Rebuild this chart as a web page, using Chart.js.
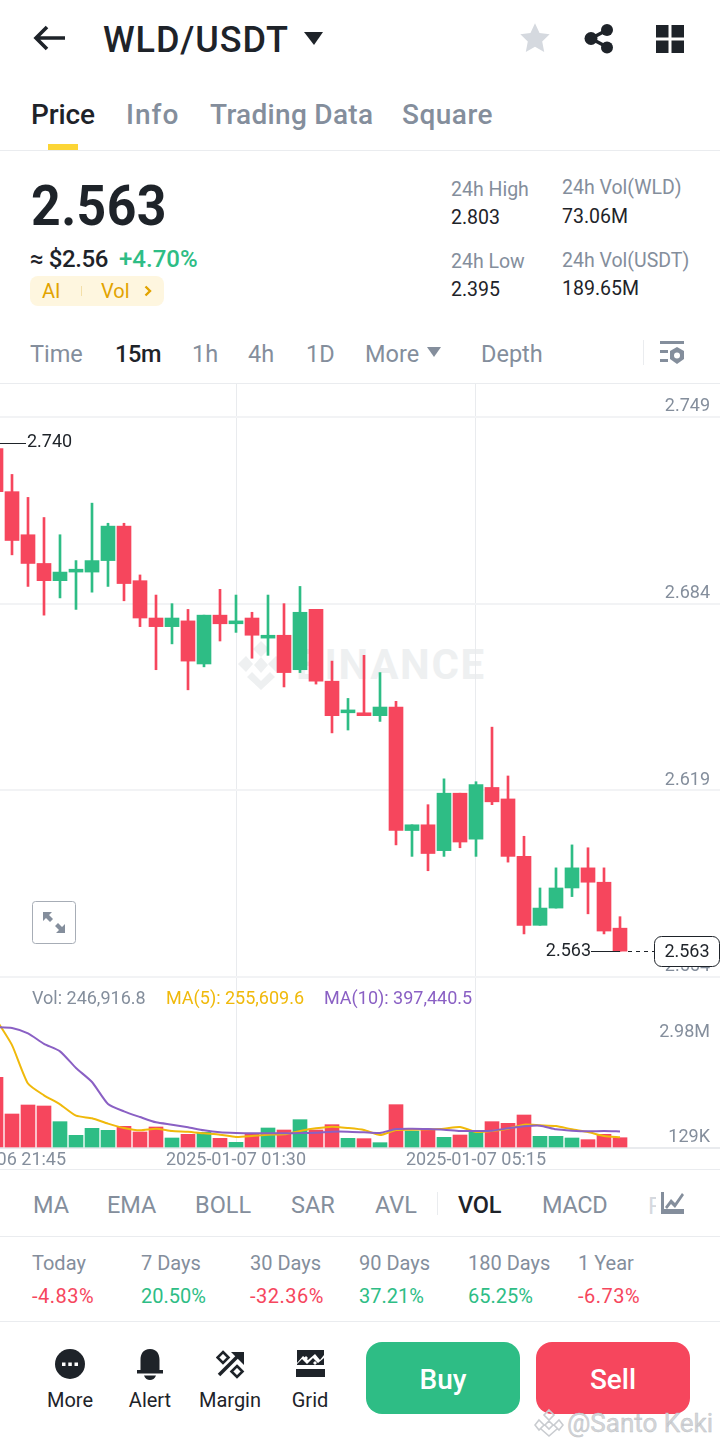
<!DOCTYPE html>
<html>
<head>
<meta charset="utf-8">
<title>WLD/USDT</title>
<script src="https://cdn.jsdelivr.net/npm/chart.js@4"></script>
<style>
  html, body { margin: 0; padding: 0; background: #fff; }
  #page { position: relative; width: 720px; height: 1446px; overflow: hidden; background: #fff; font-family: Roboto, sans-serif; color: #1e2329; }
  #page .t { position: absolute; white-space: nowrap; line-height: 1; transform: translateY(-50%); }
  .gray { color: #848e9c; }
  .dark { color: #1e2329; }
  .green { color: #2ebd85; }
  .red { color: #f6465d; }
  .hr { position: absolute; left: 0; width: 720px; height: 1px; background: #eaecef; }
  canvas { position: absolute; z-index: 2; }
  svg { position: absolute; }
  .btn { position: absolute; top: 1342px; width: 154px; height: 72px; border-radius: 16px; color: #fff; font-size: 28px; font-weight: 500; text-align: center; line-height: 76px; }
  .ctr { transform: translate(-50%, -50%) !important; }
  .row { font-size: 23.5px; }
  .mini { font-size: 19.5px; }
</style>
</head>
<body>
<div id="page">

  <!-- header -->
  <svg style="left:33px;top:24px" width="34" height="28" viewBox="0 0 34 28"><path d="M14 3 3 14l11 11M3 14h29" fill="none" stroke="#1e2329" stroke-width="3.6"/></svg>
  <div class="t" style="left:103px;top:40px;font-size:36px;font-weight:500;letter-spacing:0.9px">WLD/USDT</div>
  <svg style="left:304px;top:31px" width="20" height="15" viewBox="0 0 20 15"><path d="M0 1h19L10 14z" fill="#1e2329"/></svg>
  <svg style="left:519px;top:22px" width="32" height="32" viewBox="0 0 24 24"><path d="M12 1l3.400 7.200 7.600 1-5.600 5.400 1.500 7.900L12 18.600 5.100 22.500l1.500-7.900L1 9.200l7.600-1z" fill="#d5d9df"/></svg>
  <svg style="left:584px;top:23px" width="30" height="31" viewBox="0 0 30 31"><path d="M23 7 7 15.500 23 24" fill="none" stroke="#1e2329" stroke-width="3.500"/><circle cx="23" cy="7" r="6" fill="#1e2329"/><circle cx="7" cy="15.500" r="6.500" fill="#1e2329"/><circle cx="23" cy="24.500" r="6" fill="#1e2329"/></svg>
  <svg style="left:656px;top:25px" width="28" height="28" viewBox="0 0 28 28"><path d="M0 0h12.500v12.500H0zM15.500 0H28v12.500H15.500zM0 15.500h12.500V28H0zM15.500 15.500H28V28H15.500z" fill="#1e2329"/></svg>

  <!-- tabs -->
  <div class="t dark" style="left:31px;top:115px;font-size:28px;font-weight:500;letter-spacing:-0.1px">Price</div>
  <div class="t gray" style="left:126px;top:115px;font-size:28px;font-weight:500;letter-spacing:1px">Info</div>
  <div class="t gray" style="left:210px;top:115px;font-size:28px;font-weight:500;letter-spacing:0.3px">Trading Data</div>
  <div class="t gray" style="left:402px;top:115px;font-size:28px;font-weight:500;letter-spacing:0.5px">Square</div>
  <div style="position:absolute;left:48px;top:144px;width:30px;height:6px;background:#fcd535"></div>
  <div class="hr" style="top:150px"></div>

  <!-- price block -->
  <div class="t dark" style="left:31px;top:206px;font-size:55px;font-weight:700;letter-spacing:0.5px;transform:translateY(-50%) scaleX(0.94);transform-origin:left center">2.563</div>
  <div class="t dark" style="left:30px;top:259px;font-size:24px;font-weight:500;letter-spacing:-0.4px">≈ $2.56</div>
  <div class="t green" style="left:119px;top:259px;font-size:24px;font-weight:500">+4.70%</div>
  <div style="position:absolute;left:30px;top:276px;width:134px;height:30px;border-radius:8px;background:#fef6df"></div>
  <div class="t" style="left:42px;top:291px;font-size:20px;color:#e2a300">AI</div>
  <div style="position:absolute;left:81px;top:286px;width:1px;height:10px;background:#f3dfa8"></div>
  <div class="t" style="left:101px;top:291px;font-size:20px;color:#e2a300">Vol</div>
  <svg style="left:143px;top:284px" width="10" height="14" viewBox="0 0 10 14"><path d="M2.500 2.500 7 7l-4.500 4.500" fill="none" stroke="#e2a300" stroke-width="2.400"/></svg>

  <div class="t gray mini" style="left:451px;top:190px">24h High</div>
  <div class="t dark mini" style="left:451px;top:218px">2.803</div>
  <div class="t gray mini" style="left:451px;top:262px">24h Low</div>
  <div class="t dark mini" style="left:451px;top:290px">2.395</div>
  <div class="t gray mini" style="left:562px;top:188px">24h Vol(WLD)</div>
  <div class="t dark mini" style="left:562px;top:217px">73.06M</div>
  <div class="t gray mini" style="left:562px;top:261px">24h Vol(USDT)</div>
  <div class="t dark mini" style="left:562px;top:289px">189.65M</div>

  <!-- interval row -->
  <div class="t gray row" style="left:30px;top:355px">Time</div>
  <div class="t dark row" style="left:115px;top:355px;font-weight:500;letter-spacing:-0.3px">15m</div>
  <div class="t gray row" style="left:192px;top:355px">1h</div>
  <div class="t gray row" style="left:248px;top:355px">4h</div>
  <div class="t gray row" style="left:306px;top:355px">1D</div>
  <div class="t gray row" style="left:365px;top:355px">More</div>
  <svg style="left:427px;top:347px" width="14" height="11" viewBox="0 0 14 11"><path d="M0 0h14L7 10z" fill="#848e9c"/></svg>
  <div class="t gray row" style="left:481px;top:355px">Depth</div>
  <div style="position:absolute;left:643px;top:340px;width:1px;height:25px;background:#eaecef"></div>
  <svg style="left:660px;top:341px" width="25" height="25" viewBox="0 0 25 25"><path d="M0 0h24v3H0zM0 9h8v3H0zM0 18h8v3H0z" fill="#848e9c"/><path d="M17 6l7 4v8l-7 5-7-5v-8z" fill="#848e9c"/><circle cx="17" cy="14.500" r="3" fill="#fff"/></svg>
  <div class="hr" style="top:383px"></div>

  <!-- watermark behind the chart -->
  <svg style="left:237px;top:640px" width="48" height="50" viewBox="0 0 48 50"><g fill="#eef0f1"><path d="M24 1l8 8-8 8-8-8zM9 16l7 8-7 8-8-8zM39 16l8 8-8 8-8-8zM24 17l7 8-7 8-7-8zM15 32l9 9 9-9 5 5-14 13-14-13z"/></g></svg>
  <div class="t" style="left:296px;top:665px;font-size:42px;font-weight:700;letter-spacing:1.7px;color:#eef0f1">BINANCE</div>

  <!-- charts -->
  <canvas id="priceChart" style="left:-12px;top:384px" width="736" height="594"></canvas>
  <canvas id="volumeChart" style="left:-12px;top:978px" width="736" height="192"></canvas>

  <svg style="left:32px;top:901px;z-index:3" width="44" height="43" viewBox="0 0 44 43"><rect x="0.500" y="0.500" width="43" height="42" rx="3" fill="#fff" stroke="#a7adb6"/><path d="M11 11h9l-3 3 4 4-3 3-4-4-3 3zM33 32h-9l3-3-4-4 3-3 4 4 3-3z" fill="#848e9c"/></svg>

  <!-- volume legend -->
  <div class="t gray" style="left:32px;top:998px;font-size:18px;z-index:3">Vol: 246,916.8</div>
  <div class="t" style="left:166px;top:998px;font-size:18px;color:#f0b90b;z-index:3">MA(5): 255,609.6</div>
  <div class="t" style="left:324px;top:998px;font-size:18px;color:#8a60c4;z-index:3">MA(10): 397,440.5</div>
  <div class="hr" style="top:1169px"></div>

  <!-- indicators -->
  <div class="t gray row" style="left:33px;top:1206px">MA</div>
  <div class="t gray row" style="left:107px;top:1206px">EMA</div>
  <div class="t gray row" style="left:195px;top:1206px">BOLL</div>
  <div class="t gray row" style="left:291px;top:1206px">SAR</div>
  <div class="t gray row" style="left:375px;top:1206px">AVL</div>
  <div style="position:absolute;left:437px;top:1192px;width:1px;height:23px;background:#eaecef"></div>
  <div class="t dark row" style="left:458px;top:1206px;font-weight:500;letter-spacing:-0.2px">VOL</div>
  <div class="t gray row" style="left:542px;top:1206px;letter-spacing:-0.3px">MACD</div>
  <div class="t" style="left:648px;top:1206px;font-size:24px;color:#d5d9df">R</div>
  <div style="position:absolute;left:656px;top:1190px;width:36px;height:28px;background:#fff"></div>
  <svg style="left:661px;top:1192px" width="23" height="23" viewBox="0 0 23 23"><path d="M0 0h3v17h20v5H0z" fill="#848e9c"/><path d="M4 15l6-8 4 4 7-10 2 2-9 13-4-4-4 5z" fill="#848e9c"/></svg>
  <div class="hr" style="top:1236px"></div>

  <!-- performance -->
  <div class="t gray" style="left:32px;top:1263px;font-size:20px">Today</div>
  <div class="t gray" style="left:141px;top:1263px;font-size:20px">7 Days</div>
  <div class="t gray" style="left:250px;top:1263px;font-size:20px">30 Days</div>
  <div class="t gray" style="left:359px;top:1263px;font-size:20px">90 Days</div>
  <div class="t gray" style="left:468px;top:1263px;font-size:20px">180 Days</div>
  <div class="t gray" style="left:578px;top:1263px;font-size:20px">1 Year</div>
  <div class="t red" style="left:32px;top:1296px;font-size:20px;letter-spacing:0.5px">-4.83%</div>
  <div class="t green" style="left:141px;top:1296px;font-size:20px">20.50%</div>
  <div class="t red" style="left:250px;top:1296px;font-size:20px;letter-spacing:0.5px">-32.36%</div>
  <div class="t green" style="left:359px;top:1296px;font-size:20px">37.21%</div>
  <div class="t green" style="left:468px;top:1296px;font-size:20px">65.25%</div>
  <div class="t red" style="left:578px;top:1296px;font-size:20px;letter-spacing:0.5px">-6.73%</div>
  <div class="hr" style="top:1321px"></div>

  <!-- bottom bar -->
  <svg style="left:55px;top:1349px" width="30" height="30" viewBox="0 0 30 30"><circle cx="15" cy="15" r="15" fill="#1e2329"/><path d="M7 13.500h3.500v3.500H7zM13.300 13.500h3.500v3.500h-3.500zM19.500 13.500H23v3.500h-3.500z" fill="#fff"/></svg>
  <svg style="left:135px;top:1349px" width="30" height="31" viewBox="0 0 30 31"><path d="M15 0c7 0 9.500 5 9.500 11v10H28v3.500H2V21h3.500V11C5.500 5 8 0 15 0zM9 26.500h12c-1 3-3.500 4.500-6 4.500s-5-1.500-6-4.500z" fill="#1e2329"/></svg>
  <svg style="left:216px;top:1350px" width="29" height="29" viewBox="0 0 29 29"><path d="M3 25 24 4" stroke="#1e2329" stroke-width="3.500" fill="none"/><path d="M15 2h13v13z" fill="#1e2329"/><path d="M7 2l5.500 5.500L7 13 1.500 7.500zM21 16l5.500 5.500L21 27l-5.500-5.500z" fill="none" stroke="#1e2329" stroke-width="2.600"/></svg>
  <svg style="left:296px;top:1350px" width="29" height="28" viewBox="0 0 29 28"><path d="M1 0h27v5l-4 5-5-6-7 6-5-4-6 7zM0 19h29v8H0z" fill="#1e2329"/><path d="M1 14l5-5 5 5 6-6 5 5 6-5v7H1z" fill="#1e2329"/><path d="M10 6l2 2-2 2-2-2zM19 11l2 2-2 2-2-2z" fill="#fff"/></svg>
  <div class="t dark ctr" style="left:70px;top:1400px;font-size:20px">More</div>
  <div class="t dark ctr" style="left:150px;top:1400px;font-size:20px">Alert</div>
  <div class="t dark ctr" style="left:230px;top:1400px;font-size:20px">Margin</div>
  <div class="t dark ctr" style="left:310px;top:1400px;font-size:20px">Grid</div>
  <div class="btn" style="left:366px;background:#2ebd85">Buy</div>
  <div class="btn" style="left:536px;background:#f6465d">Sell</div>

  <!-- repost watermark -->
  <svg style="left:534px;top:1408px;z-index:4" width="30" height="30" viewBox="0 0 30 30"><path d="M15 2l5 5-5 5-5-5zM5 12l5 5-5 5-4-5zM25 12l4 5-4 5-5-5zM15 13l4 4-4 4-4-4zM7 21l8 7 8-7" fill="none" stroke="#c9ccd0" stroke-width="1.600"/></svg>
  <div class="t" style="left:567px;top:1423px;font-size:26px;color:#d3d5d8;z-index:4;-webkit-text-stroke:0.4px #bcbfc4">@Santo Keki</div>
</div>

<script>
// one entry per 15m candle
const timeLabels = [
  '2025-01-06 21:45', '2025-01-06 22:00', '2025-01-06 22:15', '2025-01-06 22:30', '2025-01-06 22:45',
  '2025-01-06 23:00', '2025-01-06 23:15', '2025-01-06 23:30', '2025-01-06 23:45', '2025-01-07 00:00',
  '2025-01-07 00:15', '2025-01-07 00:30', '2025-01-07 00:45', '2025-01-07 01:00', '2025-01-07 01:15',
  '2025-01-07 01:30', '2025-01-07 01:45', '2025-01-07 02:00', '2025-01-07 02:15', '2025-01-07 02:30',
  '2025-01-07 02:45', '2025-01-07 03:00', '2025-01-07 03:15', '2025-01-07 03:30', '2025-01-07 03:45',
  '2025-01-07 04:00', '2025-01-07 04:15', '2025-01-07 04:30', '2025-01-07 04:45', '2025-01-07 05:00',
  '2025-01-07 05:15', '2025-01-07 05:30', '2025-01-07 05:45', '2025-01-07 06:00', '2025-01-07 06:15',
  '2025-01-07 06:30', '2025-01-07 06:45', '2025-01-07 07:00', '2025-01-07 07:15', '2025-01-07 07:30'
];
const opens = [
  2.738, 2.723, 2.708, 2.698, 2.692, 2.695, 2.695, 2.699, 2.711, 2.692,
  2.679, 2.676, 2.678, 2.663, 2.680, 2.677, 2.679, 2.672, 2.673, 2.661,
  2.682, 2.657, 2.646, 2.646, 2.645, 2.648, 2.605, 2.607, 2.598, 2.618,
  2.602, 2.620, 2.616, 2.596, 2.572, 2.578, 2.585, 2.592, 2.587, 2.571
];
const highs = [
  2.740, 2.729, 2.721, 2.714, 2.708, 2.699, 2.719, 2.712, 2.712, 2.694,
  2.687, 2.684, 2.682, 2.680, 2.689, 2.687, 2.681, 2.687, 2.684, 2.690,
  2.682, 2.664, 2.651, 2.666, 2.660, 2.650, 2.607, 2.614, 2.623, 2.618,
  2.622, 2.641, 2.624, 2.603, 2.585, 2.592, 2.600, 2.599, 2.592, 2.575
];
const lows = [
  2.719, 2.701, 2.690, 2.680, 2.686, 2.682, 2.688, 2.690, 2.685, 2.676,
  2.661, 2.670, 2.654, 2.662, 2.671, 2.674, 2.665, 2.666, 2.655, 2.660,
  2.656, 2.639, 2.640, 2.645, 2.643, 2.600, 2.596, 2.591, 2.596, 2.599,
  2.596, 2.614, 2.594, 2.569, 2.572, 2.578, 2.582, 2.576, 2.569, 2.563
];
const closes = [
  2.723, 2.706, 2.698, 2.692, 2.695, 2.696, 2.699, 2.711, 2.691, 2.679,
  2.676, 2.679, 2.664, 2.680, 2.677, 2.678, 2.673, 2.673, 2.660, 2.681,
  2.657, 2.645, 2.647, 2.645, 2.648, 2.605, 2.607, 2.597, 2.618, 2.601,
  2.621, 2.615, 2.596, 2.572, 2.578, 2.585, 2.592, 2.587, 2.570, 2.563
];
const volumes = [
  1696000, 816000, 1032000, 1008000, 632000, 304000, 472000, 424000, 520000, 384000,
  504000, 240000, 328000, 376000, 232000, 136000, 352000, 480000, 432000, 680000,
  432000, 560000, 232000, 224000, 128000, 1040000, 408000, 448000, 256000, 312000,
  384000, 632000, 592000, 792000, 280000, 280000, 240000, 200000, 328000, 246917
];
const ma5 = [
  3090000, 2470000, 1546000, 1265000, 1048000, 776000, 712000, 584000, 480000, 424000,
  464000, 408000, 392000, 352000, 320000, 264000, 288000, 320000, 328000, 408000,
  472000, 512000, 480000, 432000, 312000, 432000, 440000, 448000, 464000, 504000,
  384000, 408000, 464000, 560000, 544000, 528000, 448000, 384000, 288000, 255610
];
const ma10 = [
  2900000, 2880000, 2750000, 2500000, 2320000, 1920000, 1584000, 1056000, 880000, 744000,
  616000, 560000, 496000, 424000, 376000, 360000, 352000, 352000, 352000, 360000,
  368000, 392000, 392000, 376000, 360000, 456000, 464000, 456000, 440000, 408000,
  408000, 416000, 472000, 520000, 536000, 448000, 416000, 400000, 408000, 397441
];
const priceTicks = [2.749, 2.684, 2.619, 2.554];
const volumeTicks = [2980000, 129000];
const volumeTickLabels = ['2.98M', '129K'];
const highPrice = 2.740;
const lastPrice = 2.563;

const GREEN = '#2ebd85';
const RED = '#f6465d';
const TEXT = '#1e2329';
const MUTED = '#848e9c';
const MA5_COLOR = '#f0b90b';
const MA10_COLOR = '#8a60c4';
const GRID = '#f2f3f5';
const TICK_FONT = { family: 'Roboto', size: 18 };
const FONT_STR = '18px Roboto';

// six empty slots keep the space on the right of the last candle
const slots = [...timeLabels, '', '', '', '', '', ''];
const candleColors = closes.map((c, i) => c >= opens[i] ? GREEN : RED);

function noPadding(scale) {
    scale.paddingLeft = 0;
    scale.paddingRight = 0;
    scale.paddingTop = 0;
    scale.paddingBottom = 0;
}

function noWidth(scale) {
    noPadding(scale);
    scale.width = 0;
}

function xGrid(ctx) {
    const i = ctx.index;
    return i > 0 && i < timeLabels.length && i % 15 === 0 ? '#e9ebee' : 'transparent';
}

// high / last price markers, drawn from the y scale
const priceMarkers = {
    id: 'priceMarkers',
    afterDatasetsDraw(chart) {
        const c = chart.ctx;
        const y = chart.scales.y;
        const x = chart.scales.x;
        const yHigh = Math.round(y.getPixelForValue(highPrice)) + 0.5;
        const yLast = Math.round(y.getPixelForValue(lastPrice)) + 0.5;
        const xLast = x.getPixelForValue(timeLabels.length - 1);

        c.save();
        c.font = FONT_STR;
        c.fillStyle = TEXT;
        c.strokeStyle = TEXT;
        c.lineWidth = 1;
        c.textBaseline = 'middle';

        c.beginPath();
        c.moveTo(x.getPixelForValue(0), yHigh);
        c.lineTo(38, yHigh);
        c.stroke();
        c.textAlign = 'left';
        c.fillText(highPrice.toFixed(3), 39, yHigh - 1);

        c.beginPath();
        c.moveTo(603, yLast);
        c.lineTo(xLast, yLast);
        c.stroke();
        c.textAlign = 'right';
        c.fillText(lastPrice.toFixed(3), 603, yLast);

        c.setLineDash([4, 4]);
        c.beginPath();
        c.moveTo(xLast + 8, yLast);
        c.lineTo(666, yLast);
        c.stroke();
        c.setLineDash([]);

        c.fillStyle = '#fff';
        c.beginPath();
        c.roundRect(666.5, yLast - 15, 65, 30, 7);
        c.fill();
        c.stroke();
        c.fillStyle = TEXT;
        c.textAlign = 'center';
        c.fillText(lastPrice.toFixed(3), 699, yLast + 1);
        c.restore();
    }
};

// volume labels sit away from their own level in the app
const volumeLabels = {
    id: 'volumeLabels',
    afterDraw(chart) {
        const c = chart.ctx;
        const y = chart.scales.y;
        c.save();
        c.font = FONT_STR;
        c.fillStyle = MUTED;
        c.textAlign = 'right';
        c.textBaseline = 'middle';
        volumeTicks.forEach((v, i) => {
            const shift = i === 0 ? 9 : -5;
            c.fillText(volumeTickLabels[i], 722, y.getPixelForValue(v) + shift);
        });
        c.restore();
    }
};

new Chart(document.getElementById('priceChart'), {
    type: 'bar',
    data: {
        labels: slots,
        datasets: [
            {
                label: 'Wick',
                data: lows.map((l, i) => [l, highs[i]]),
                backgroundColor: candleColors,
                barThickness: 2,
                grouped: false,
                order: 2
            },
            {
                label: 'Body',
                data: opens.map((o, i) => [Math.min(o, closes[i]), Math.max(o, closes[i])]),
                backgroundColor: candleColors,
                barThickness: 14,
                grouped: false,
                order: 1
            }
        ]
    },
    options: {
        responsive: false,
        animation: false,
        events: [],
        layout: { padding: 0 },
        plugins: { legend: { display: false }, tooltip: { enabled: false } },
        scales: {
            x: {
                offset: true,
                afterFit: noPadding,
                border: { display: false },
                grid: { offset: false, drawTicks: false, color: xGrid },
                ticks: { display: false, autoSkip: false }
            },
            y: {
                position: 'right',
                min: 2.55365,
                max: 2.76049,
                afterBuildTicks: s => { s.ticks = priceTicks.map(v => ({ value: v })); },
                afterFit: noWidth,
                border: { display: false },
                grid: { drawTicks: false, color: GRID, lineWidth: 2 },
                ticks: {
                    mirror: true,
                    padding: -14,
                    labelOffset: -10,
                    color: MUTED,
                    font: TICK_FONT,
                    callback: v => v.toFixed(3)
                }
            }
        }
    },
    plugins: [priceMarkers]
});

new Chart(document.getElementById('volumeChart'), {
    data: {
        labels: slots,
        datasets: [
            {
                type: 'line',
                label: 'MA(5)',
                data: ma5,
                borderColor: MA5_COLOR,
                borderWidth: 2,
                pointRadius: 0,
                tension: 0.2,
                order: 2
            },
            {
                type: 'line',
                label: 'MA(10)',
                data: ma10,
                borderColor: MA10_COLOR,
                borderWidth: 2,
                pointRadius: 0,
                tension: 0.2,
                order: 1
            },
            {
                type: 'bar',
                label: 'Vol',
                data: volumes,
                backgroundColor: candleColors,
                barThickness: 14,
                order: 3
            }
        ]
    },
    options: {
        responsive: false,
        animation: false,
        events: [],
        layout: { padding: 0 },
        plugins: { legend: { display: false }, tooltip: { enabled: false } },
        scales: {
            x: {
                offset: true,
                afterFit: s => { noPadding(s); s.height = 22; },
                border: { display: false },
                grid: { offset: false, drawTicks: false, color: xGrid },
                ticks: {
                    autoSkip: false,
                    maxRotation: 0,
                    padding: 2,
                    color: MUTED,
                    font: TICK_FONT,
                    callback: (v, i) => i < timeLabels.length && i % 15 === 0 ? timeLabels[i] : ''
                }
            },
            y: {
                position: 'right',
                min: 0,
                max: 4080000,
                afterBuildTicks: s => { s.ticks = [{ value: 0 }]; },
                afterFit: noWidth,
                border: { display: false },
                grid: { drawTicks: false, color: '#e9ebee', lineWidth: 2 },
                ticks: { display: false }
            }
        }
    },
    plugins: [volumeLabels]
});
</script>
</body>
</html>
